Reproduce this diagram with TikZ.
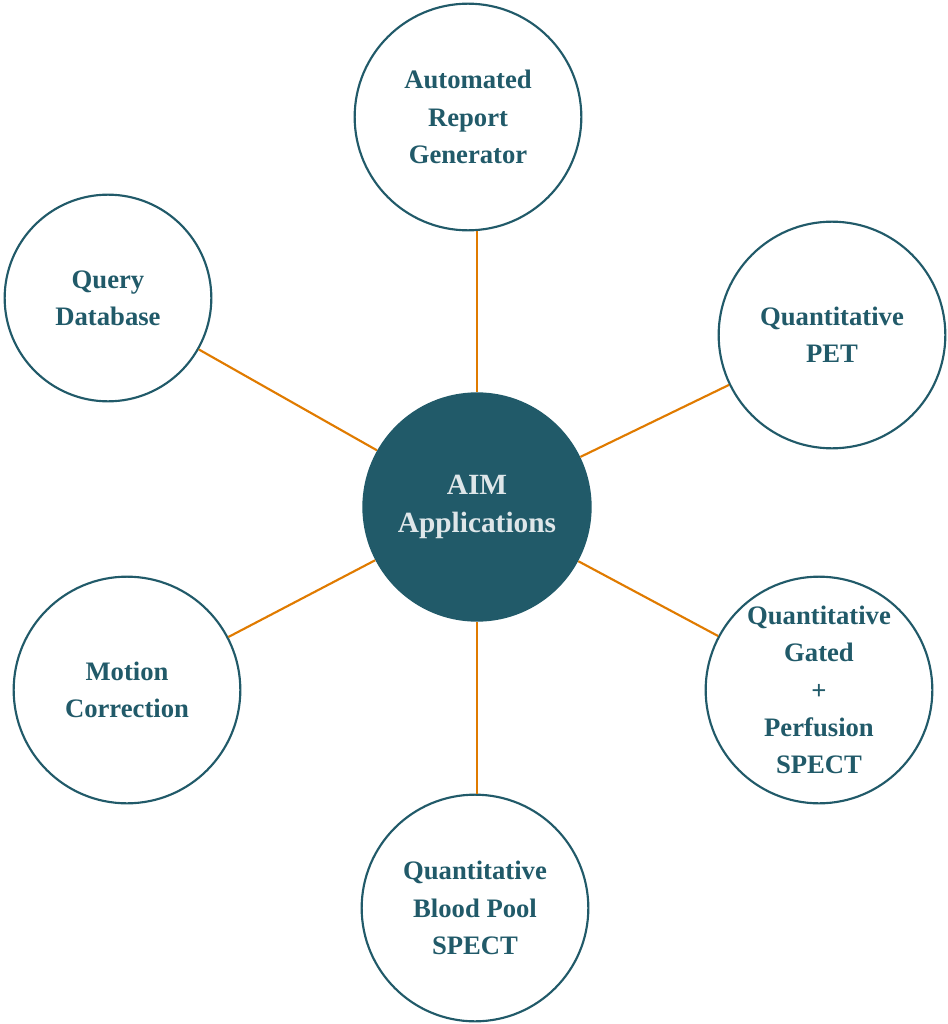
\documentclass[tikz,border=0pt]{standalone}
\usepackage{fontspec}
\setmainfont{Liberation Serif}
\usepackage{tikz}
\definecolor{teal1}{HTML}{215A69}
\definecolor{orng}{HTML}{E07B00}
\tikzset{
 app/.style={circle, draw=teal1, line width=1.6pt, fill=white, text=teal1, align=center,
   font=\fontsize{20}{28}\selectfont\bfseries, inner sep=0pt},
 hub/.style={circle, fill=teal1, text=white!85!teal1, align=center,
   font=\fontsize{22}{28}\selectfont\bfseries, minimum size=172pt},
 link/.style={orng, line width=1.6pt}
}
\begin{document}
\begin{tikzpicture}[x=0.75pt,y=-0.75pt]
 \useasboundingbox (0,0) rectangle (948,1024);
 \node[hub] (hub) at (477,507) {AIM\\Applications};
 \node[app, minimum size=170pt] (report) at (468,117) {Automated\\Report\\Generator};
 \node[app, minimum size=155pt] (query) at (108,298) {Query\\Database};
 \node[app, minimum size=170pt] (pet) at (832,335) {Quantitative\\PET};
 \node[app, minimum size=170pt] (motion) at (127,690) {Motion\\Correction};
 \node[app, minimum size=170pt] (gated) at (819,690) {Quantitative\\Gated\\+\\Perfusion\\SPECT};
 \node[app, minimum size=170pt] (pool) at (475,908) {Quantitative\\Blood Pool\\SPECT};

 \draw[link] (hub.90) -- (hub.90 |- report.south);
 \draw[link] (hub) -- (query);
 \draw[link] (hub) -- (pet);
 \draw[link] (hub) -- (motion);
 \draw[link] (hub) -- (gated);
 \draw[link] (hub.270) -- (hub.270 |- pool.north);
\end{tikzpicture}
\end{document}
